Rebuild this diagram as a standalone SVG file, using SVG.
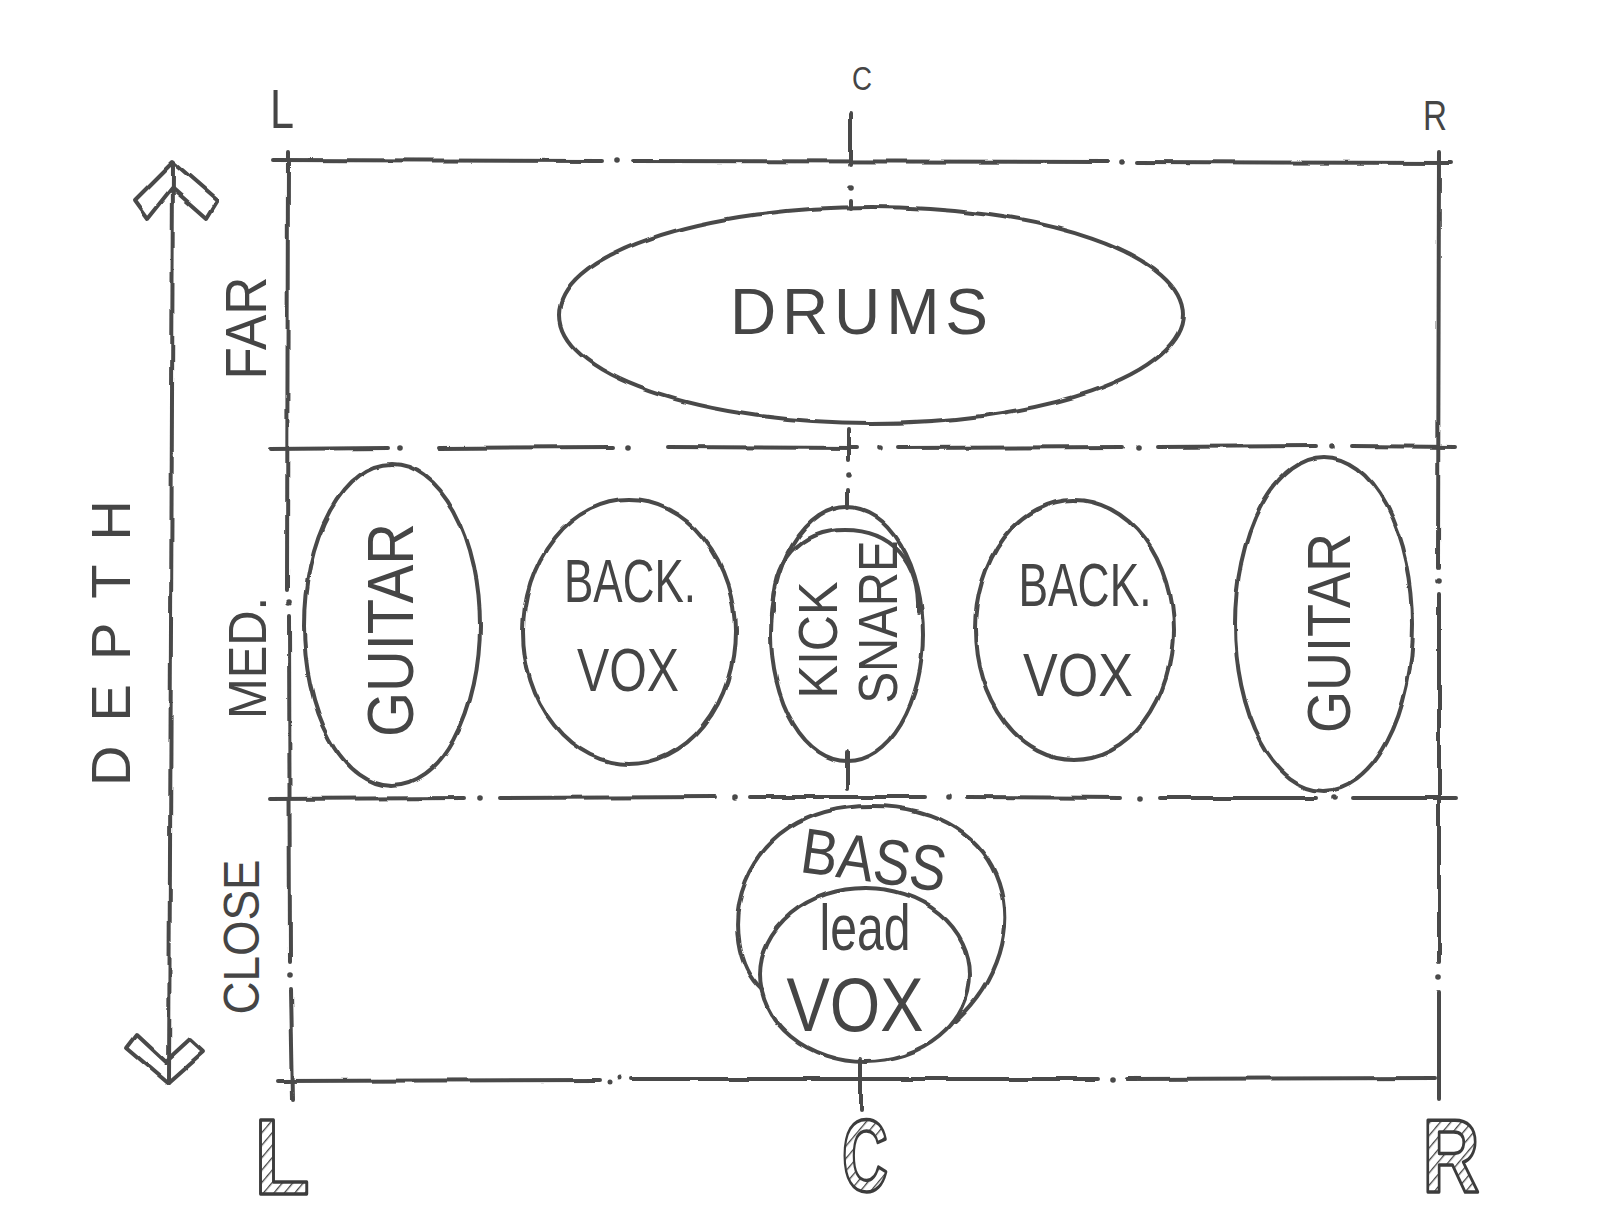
<svg xmlns="http://www.w3.org/2000/svg" width="1600" height="1228" viewBox="0 0 1600 1228">
<defs>
<style>
.ln{fill:none;stroke:#4a4a4a;stroke-width:4;stroke-linecap:round;stroke-linejoin:round}
.dot{fill:#4a4a4a}
.t{font-family:"Liberation Sans",Arial,sans-serif;fill:#454545;text-anchor:middle;dominant-baseline:central}
.big{font-family:"Liberation Sans",Arial,sans-serif;font-weight:bold;fill:url(#hatch);stroke:#3c3c3c;stroke-width:3.5;stroke-linejoin:round;text-anchor:middle;dominant-baseline:central}
</style>
<pattern id="hatch" patternUnits="userSpaceOnUse" width="8" height="8" patternTransform="rotate(40)">
<rect width="8" height="8" fill="#fff"/>
<line x1="0" y1="0" x2="0" y2="8" stroke="#444" stroke-width="2.6"/>
</pattern>
<filter id="rough" x="-5%" y="-5%" width="110%" height="110%">
<feTurbulence type="fractalNoise" baseFrequency="0.025" numOctaves="2" seed="4"/>
<feDisplacementMap in="SourceGraphic" scale="5" xChannelSelector="R" yChannelSelector="G"/>
</filter>
</defs>
<rect width="1600" height="1228" fill="#fff"/>

<g id="connectors" filter="url(#rough)">
<!-- top border -->
<path class="ln" d="M273,160 L602,161 M633,161 L1107,162 M1138,162 L1451,163"/>
<circle class="dot" cx="617" cy="161" r="2.8"/><circle class="dot" cx="1122" cy="162" r="2.8"/>
<!-- line between FAR and MED -->
<path class="ln" d="M270,449 L388,448 M439,448 L612,447 M668,447 L857,448 M898,448 L1122,447 M1158,447 L1316,446 M1352,446 L1454,447"/>
<circle class="dot" cx="400" cy="448" r="2.8"/><circle class="dot" cx="628" cy="447" r="2.8"/><circle class="dot" cx="880" cy="448" r="2.8"/><circle class="dot" cx="1138" cy="447" r="2.8"/><circle class="dot" cx="1332" cy="446" r="2.8"/>
<!-- line between MED and CLOSE -->
<path class="ln" d="M270,799 L464,798 M500,798 L715,797 M750,797 L925,797 M968,797 L1120,798 M1160,798 L1316,798 M1352,798 L1455,798"/>
<circle class="dot" cx="480" cy="798" r="2.8"/><circle class="dot" cx="735" cy="797" r="2.8"/><circle class="dot" cx="948" cy="797" r="2.8"/><circle class="dot" cx="1140" cy="798" r="2.8"/><circle class="dot" cx="1334" cy="798" r="2.8"/>
<!-- bottom border -->
<path class="ln" d="M278,1081 L600,1080 M632,1079 L1098,1079 M1128,1079 L1435,1078"/>
<circle class="dot" cx="610" cy="1082" r="2.5"/><circle class="dot" cx="620" cy="1078" r="2.5"/><circle class="dot" cx="1113" cy="1080" r="2.8"/>
<!-- left vertical -->
<path class="ln" d="M288,152 L287,590 M289,616 L290,962 M291,990 L293,1100"/>
<circle class="dot" cx="289" cy="603" r="2.8"/><circle class="dot" cx="291" cy="976" r="2.8"/>
<!-- right vertical -->
<path class="ln" d="M1439,152 L1438,568 M1439,594 L1439,962 M1439,992 L1439,1098"/>
<circle class="dot" cx="1439" cy="581" r="2.8"/><circle class="dot" cx="1439" cy="977" r="2.8"/>
<!-- center line -->
<path class="ln" d="M850,114 L850,164 M850,200 L850,208 M849,429 L849,460 M848,490 L848,508 M847,752 L847,788 M860,1060 L860,1110"/>
<circle class="dot" cx="850" cy="188" r="2.8"/><circle class="dot" cx="849" cy="475" r="2.8"/>
<!-- depth arrow -->
<path class="ln" d="M173,164 L172,400 Q170,700 169,1082"/>
<path class="ln" d="M173,162 L135,200 L148,218 L172,188 L206,218 L217,200 Z"/>
<path class="ln" d="M168,1083 L127,1048 L137,1035 L166,1062 L190,1040 L203,1052 Z"/>
</g>

<g id="axis-labels">
<text class="t" x="282" y="108" font-size="56" textLength="24" lengthAdjust="spacingAndGlyphs">L</text>
<text class="t" x="862" y="78" font-size="34" textLength="20" lengthAdjust="spacingAndGlyphs">C</text>
<text class="t" x="1435" y="115" font-size="42" textLength="24" lengthAdjust="spacingAndGlyphs">R</text>
<text class="t" transform="translate(110,643) rotate(-90)" font-size="56" textLength="286" lengthAdjust="spacing">DEPTH</text>
<text class="t" transform="translate(245,328) rotate(-90)" font-size="58" textLength="103" lengthAdjust="spacingAndGlyphs">FAR</text>
<text class="t" transform="translate(247,658) rotate(-90)" font-size="54" textLength="122" lengthAdjust="spacingAndGlyphs">MED.</text>
<text class="t" transform="translate(242,937) rotate(-90)" font-size="50" textLength="155" lengthAdjust="spacingAndGlyphs">CLOSE</text>
<text class="big" x="282" y="1156" font-size="108" textLength="55" lengthAdjust="spacingAndGlyphs">L</text>
<text class="big" x="865" y="1156" font-size="102" textLength="46" lengthAdjust="spacingAndGlyphs">C</text>
<text class="big" x="1451" y="1156" font-size="104" textLength="57" lengthAdjust="spacingAndGlyphs">R</text>
</g>

<g id="drums">
<ellipse class="ln" cx="871" cy="315" rx="312" ry="108" filter="url(#rough)"/>
<text class="t" x="859" y="312" font-size="64" textLength="258" lengthAdjust="spacing">DRUMS</text>
</g>

<g id="guitar-left">
<ellipse class="ln" cx="392" cy="625" rx="88" ry="161" filter="url(#rough)"/>
<text class="t" transform="translate(391,630) rotate(-90)" font-size="64" textLength="214" lengthAdjust="spacingAndGlyphs">GUITAR</text>
</g>

<g id="back-vox-left">
<ellipse class="ln" cx="629" cy="632" rx="106" ry="132" filter="url(#rough)"/>
<text class="t" x="630" y="580" font-size="62" textLength="132" lengthAdjust="spacingAndGlyphs">BACK.</text>
<text class="t" x="628" y="669" font-size="62" textLength="102" lengthAdjust="spacingAndGlyphs">VOX</text>
</g>

<g id="kick-snare">
<g filter="url(#rough)">
<ellipse class="ln" cx="847" cy="634" rx="76" ry="127"/>
<path class="ln" d="M774,612 C772,560 800,530 845,530 C892,530 920,562 918,612"/>
</g>
<text class="t" transform="translate(817,640) rotate(-90)" font-size="56" textLength="117" lengthAdjust="spacingAndGlyphs">KICK</text>
<text class="t" transform="translate(877,622) rotate(-90)" font-size="56" textLength="163" lengthAdjust="spacingAndGlyphs">SNARE</text>
</g>

<g id="back-vox-right">
<ellipse class="ln" cx="1074" cy="630" rx="99" ry="130" filter="url(#rough)"/>
<text class="t" x="1085" y="584" font-size="62" textLength="133" lengthAdjust="spacingAndGlyphs">BACK.</text>
<text class="t" x="1078" y="674" font-size="62" textLength="110" lengthAdjust="spacingAndGlyphs">VOX</text>
</g>

<g id="guitar-right">
<ellipse class="ln" cx="1324" cy="624" rx="89" ry="167" filter="url(#rough)"/>
<text class="t" transform="translate(1328,633) rotate(-90)" font-size="62" textLength="200" lengthAdjust="spacingAndGlyphs">GUITAR</text>
</g>

<g id="bass">
<path class="ln" d="M762,990 C712,945 732,806 872,806 C1012,806 1045,940 955,1022" filter="url(#rough)"/>
<text class="t" transform="translate(874,860) rotate(8)" font-size="64" textLength="146" lengthAdjust="spacingAndGlyphs">BASS</text>
</g>

<g id="lead-vox">
<ellipse class="ln" cx="865" cy="975" rx="105" ry="87" filter="url(#rough)"/>
<text class="t" x="865" y="928" font-size="64" textLength="91" lengthAdjust="spacingAndGlyphs">lead</text>
<text class="t" x="855" y="1004" font-size="76" textLength="137" lengthAdjust="spacingAndGlyphs">VOX</text>
</g>
</svg>
